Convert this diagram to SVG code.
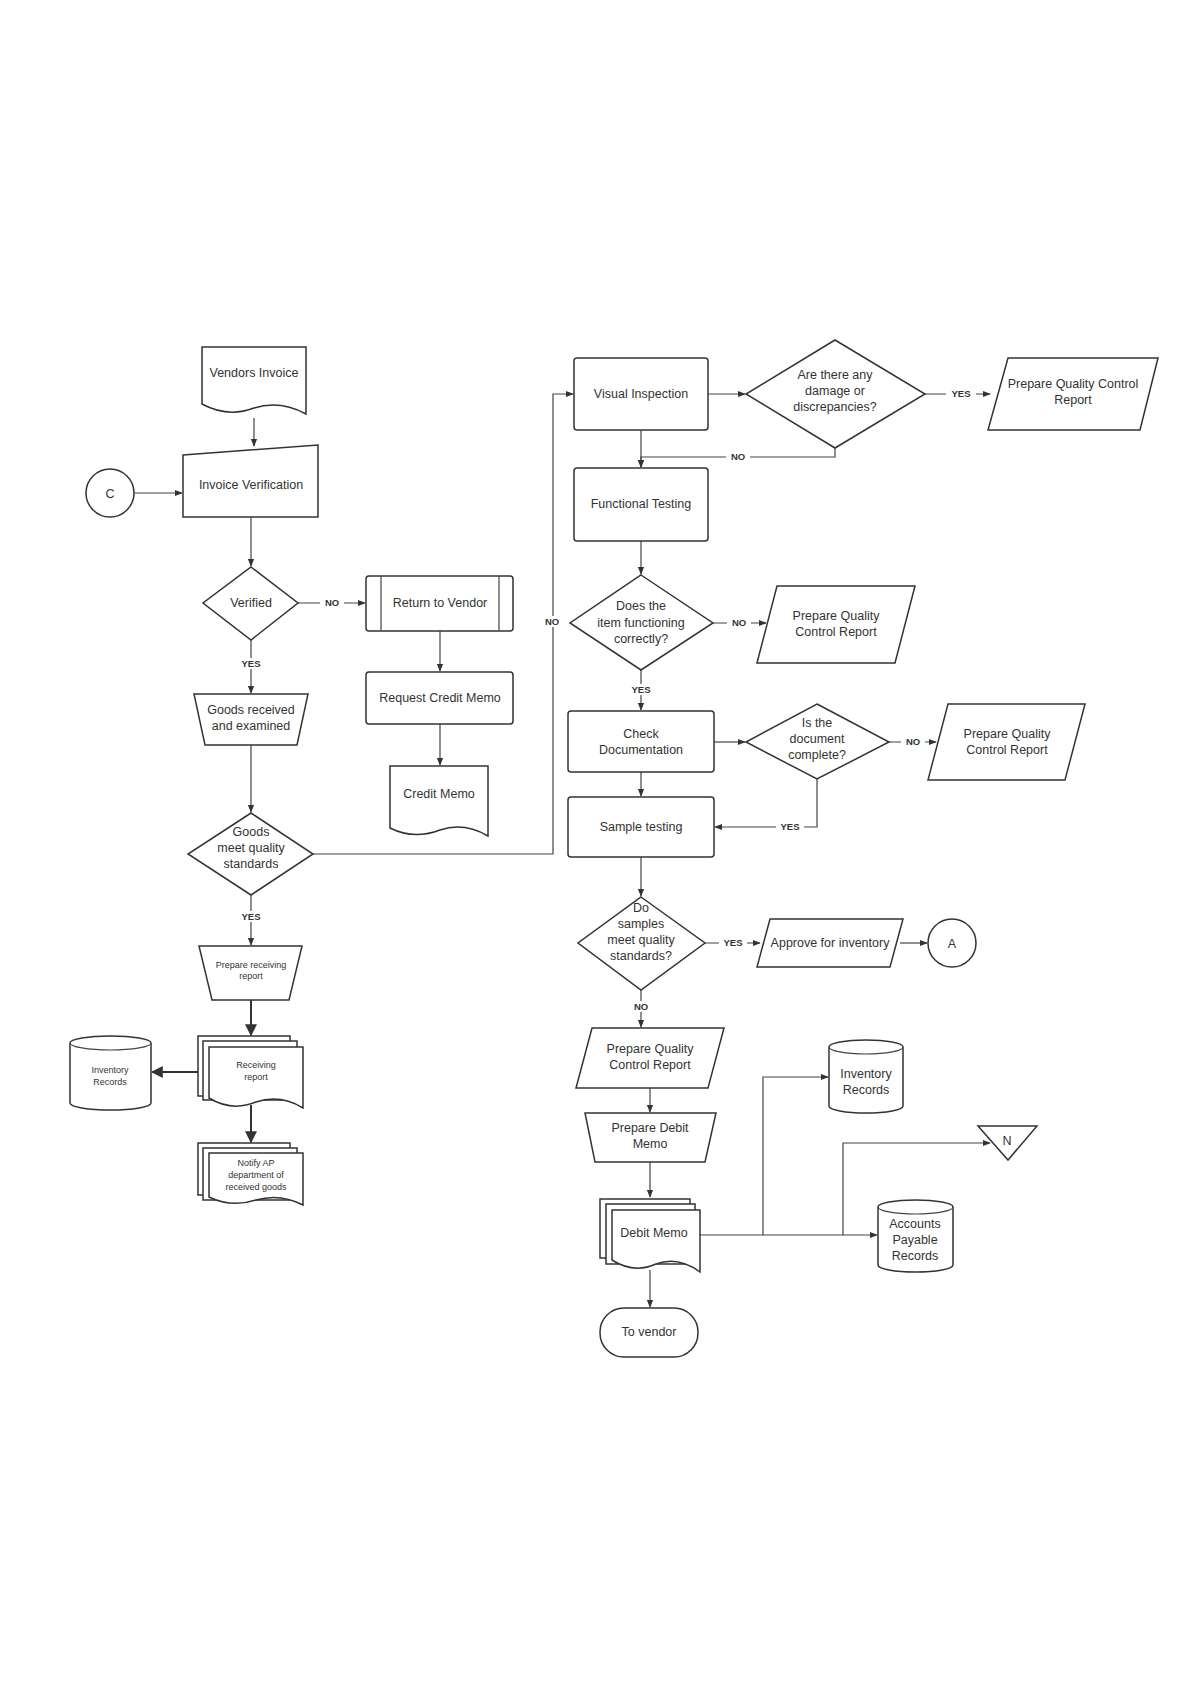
<svg xmlns="http://www.w3.org/2000/svg" width="1200" height="1698" viewBox="0 0 1200 1698">
<defs>
<marker id="ah" viewBox="0 0 10 10" refX="9" refY="5" markerWidth="8" markerHeight="8" orient="auto" markerUnits="userSpaceOnUse"><path d="M0,1 L10,5 L0,9 Z" fill="#333"/></marker>
<marker id="ahb" viewBox="0 0 10 10" refX="9" refY="5" markerWidth="12" markerHeight="12" orient="auto" markerUnits="userSpaceOnUse"><path d="M0,0 L10,5 L0,10 Z" fill="#333"/></marker>
</defs>
<style>
.s{fill:#fff;stroke:#333;stroke-width:1.5}
.t{font-family:"Liberation Sans",Arial,sans-serif;font-size:12.5px;fill:#333;text-anchor:middle}
.sm{font-size:9px}
.lb{font-family:"Liberation Sans",Arial,sans-serif;font-size:9.5px;font-weight:bold;fill:#333;text-anchor:middle}
.c{fill:none;stroke:#444;stroke-width:1.2;marker-end:url(#ah)}
.cn{fill:none;stroke:#444;stroke-width:1.2}
.cb{fill:none;stroke:#333;stroke-width:2;marker-end:url(#ahb)}
.w{fill:#fff}
</style>
<rect width="1200" height="1698" fill="#fff"/>

<g id="connectors">
<path class="c" d="M254,418 V446"/>
<path class="c" d="M134,493 H182"/>
<path class="c" d="M251,517 V566"/>
<path class="c" d="M298,603 H365"/>
<path class="c" d="M440,631 V671"/>
<path class="c" d="M440,724 V765"/>
<path class="c" d="M251,640 V693"/>
<path class="c" d="M251,745 V812"/>
<path class="c" d="M313,854 H553 V394 H573"/>
<path class="c" d="M251,895 V945"/>
<path class="cb" d="M251,1000 V1035"/>
<path class="cb" d="M198,1072 H152"/>
<path class="cb" d="M251,1105 V1142"/>
<path class="c" d="M708,394 H745"/>
<path class="c" d="M925,394 H990"/>
<path class="c" d="M835,448 V457 H641 V467"/>
<path class="c" d="M641,430 V467"/>
<path class="c" d="M641,541 V574"/>
<path class="c" d="M713,623 H766"/>
<path class="c" d="M641,670 V710"/>
<path class="c" d="M714,742 H745"/>
<path class="c" d="M889,742 H936"/>
<path class="c" d="M817,779 V827 H715"/>
<path class="c" d="M641,772 V796"/>
<path class="c" d="M641,857 V896"/>
<path class="c" d="M705,943 H760"/>
<path class="c" d="M900,943 H927"/>
<path class="c" d="M641,990 V1027"/>
<path class="c" d="M650,1088 V1112"/>
<path class="c" d="M650,1162 V1197"/>
<path class="c" d="M650,1270 V1307"/>
<path class="c" d="M700,1235 H763 V1077 H828"/>
<path class="c" d="M763,1235 H843 V1143 H990"/>
<path class="c" d="M843,1235 H877"/>
<rect class="w" x="320" y="597" width="24" height="11"/><text class="lb" x="332" y="606">NO</text>
<rect class="w" x="238" y="658" width="26" height="11"/><text class="lb" x="251" y="667">YES</text>
<rect class="w" x="238" y="911" width="26" height="11"/><text class="lb" x="251" y="920">YES</text>
<rect class="w" x="540" y="616" width="24" height="11"/><text class="lb" x="552" y="625">NO</text>
<rect class="w" x="946" y="388" width="30" height="11"/><text class="lb" x="961" y="397">YES</text>
<rect class="w" x="726" y="451" width="24" height="11"/><text class="lb" x="738" y="460">NO</text>
<rect class="w" x="727" y="617" width="24" height="11"/><text class="lb" x="739" y="626">NO</text>
<rect class="w" x="628" y="684" width="26" height="11"/><text class="lb" x="641" y="693">YES</text>
<rect class="w" x="901" y="736" width="24" height="11"/><text class="lb" x="913" y="745">NO</text>
<rect class="w" x="776" y="821" width="28" height="11"/><text class="lb" x="790" y="830">YES</text>
<rect class="w" x="719" y="937" width="28" height="11"/><text class="lb" x="733" y="946">YES</text>
<rect class="w" x="629" y="1001" width="24" height="11"/><text class="lb" x="641" y="1010">NO</text>
</g>

<g id="vendors-invoice"><path class="s" d="M202,347 H306 V414 Q280,400 254,408 Q228,418 202,404 Z"/><text class="t" x="254" y="377">Vendors Invoice</text></g>
<g id="c-connector"><circle class="s" cx="110" cy="493" r="24"/><text class="t" x="110" y="498">C</text></g>
<g id="invoice-verification"><path class="s" d="M183,455 L318,445 V517 H183 Z"/><text class="t" x="251" y="489">Invoice Verification</text></g>
<g id="verified"><path class="s" d="M251,567 L298,603 L251,640 L203,603 Z"/><text class="t" x="251" y="607">Verified</text></g>
<g id="return-vendor"><rect class="s" x="366" y="576" width="147" height="55" rx="3"/><path class="cn" d="M381,576 V631 M499,576 V631"/><text class="t" x="440" y="607">Return to Vendor</text></g>
<g id="request-credit-memo"><rect class="s" x="366" y="672" width="147" height="52" rx="3"/><text class="t" x="440" y="702">Request Credit Memo</text></g>
<g id="credit-memo"><path class="s" d="M390,766 H488 V836 Q464,822 440,830 Q414,840 390,828 Z"/><text class="t" x="439" y="798">Credit Memo</text></g>
<g id="goods-received"><path class="s" d="M194,694 H308 L297,745 H205 Z"/><text class="t" x="251" y="714">Goods received</text><text class="t" x="251" y="730">and examined</text></g>
<g id="goods-quality"><path class="s" d="M251,813 L313,854 L251,895 L188,854 Z"/><text class="t" x="251" y="836">Goods</text><text class="t" x="251" y="852">meet quality</text><text class="t" x="251" y="868">standards</text></g>
<g id="prepare-receiving"><path class="s" d="M199,946 H302 L289,1000 H212 Z"/><text class="t sm" x="251" y="968">Prepare receiving</text><text class="t sm" x="251" y="979">report</text></g>
<g id="receiving-report"><path class="s" d="M198,1036 H290 V1096 H198 Z"/><path class="s" d="M203,1041 H297 V1100 H203 Z"/><path class="s" d="M209,1047 H303 V1108 Q280,1094 256,1102 Q232,1112 209,1098 Z"/><text class="t sm" x="256" y="1068">Receiving</text><text class="t sm" x="256" y="1080">report</text></g>
<g id="inventory-records-1"><path class="s" d="M70,1043 A40.5,7 0 0 1 151,1043 V1103 A40.5,7 0 0 1 70,1103 Z"/><path class="cn" d="M70,1043 A40.5,7 0 0 0 151,1043"/><text class="t sm" x="110" y="1073">Inventory</text><text class="t sm" x="110" y="1085">Records</text></g>
<g id="notify-ap"><path class="s" d="M198,1143 H290 V1195 H198 Z"/><path class="s" d="M203,1148 H297 V1200 H203 Z"/><path class="s" d="M209,1153 H303 V1205 Q280,1193 256,1200 Q232,1208 209,1197 Z"/><text class="t sm" x="256" y="1166">Notify AP</text><text class="t sm" x="256" y="1178">department of</text><text class="t sm" x="256" y="1190">received goods</text></g>

<g id="visual-inspection"><rect class="s" x="574" y="358" width="134" height="72" rx="3"/><text class="t" x="641" y="398">Visual Inspection</text></g>
<g id="damage-decision"><path class="s" d="M835,340 L925,394 L835,448 L746,394 Z"/><text class="t" x="835" y="379">Are there any</text><text class="t" x="835" y="395">damage or</text><text class="t" x="835" y="411">discrepancies?</text></g>
<g id="pqcr-1"><path class="s" d="M1008,358 H1158 L1140,430 H988 Z"/><text class="t" x="1073" y="388">Prepare Quality Control</text><text class="t" x="1073" y="404">Report</text></g>
<g id="functional-testing"><rect class="s" x="574" y="468" width="134" height="73" rx="3"/><text class="t" x="641" y="508">Functional Testing</text></g>
<g id="functioning-decision"><path class="s" d="M641,575 L713,623 L641,670 L570,623 Z"/><text class="t" x="641" y="610">Does the</text><text class="t" x="641" y="627">item functioning</text><text class="t" x="641" y="643">correctly?</text></g>
<g id="pqcr-2"><path class="s" d="M777,586 H915 L895,663 H757 Z"/><text class="t" x="836" y="620">Prepare Quality</text><text class="t" x="836" y="636">Control Report</text></g>
<g id="check-documentation"><rect class="s" x="568" y="711" width="146" height="61" rx="3"/><text class="t" x="641" y="738">Check</text><text class="t" x="641" y="754">Documentation</text></g>
<g id="document-decision"><path class="s" d="M817,704 L889,742 L817,779 L746,742 Z"/><text class="t" x="817" y="727">Is the</text><text class="t" x="817" y="743">document</text><text class="t" x="817" y="759">complete?</text></g>
<g id="pqcr-3"><path class="s" d="M948,704 H1085 L1065,780 H928 Z"/><text class="t" x="1007" y="738">Prepare Quality</text><text class="t" x="1007" y="754">Control Report</text></g>
<g id="sample-testing"><rect class="s" x="568" y="797" width="146" height="60" rx="3"/><text class="t" x="641" y="831">Sample testing</text></g>
<g id="samples-decision"><path class="s" d="M641,897 L705,943 L641,990 L578,943 Z"/><text class="t" x="641" y="912">Do</text><text class="t" x="641" y="928">samples</text><text class="t" x="641" y="944">meet quality</text><text class="t" x="641" y="960">standards?</text></g>
<g id="approve-inventory"><path class="s" d="M770,919 H903 L890,967 H757 Z"/><text class="t" x="830" y="947">Approve for inventory</text></g>
<g id="a-connector"><circle class="s" cx="952" cy="943" r="24"/><text class="t" x="952" y="948">A</text></g>
<g id="pqcr-4"><path class="s" d="M592,1028 H724 L708,1088 H576 Z"/><text class="t" x="650" y="1053">Prepare Quality</text><text class="t" x="650" y="1069">Control Report</text></g>
<g id="prepare-debit-memo"><path class="s" d="M585,1113 H716 L705,1162 H595 Z"/><text class="t" x="650" y="1132">Prepare Debit</text><text class="t" x="650" y="1148">Memo</text></g>
<g id="debit-memo"><path class="s" d="M600,1199 H690 V1258 H600 Z"/><path class="s" d="M606,1204 H695 V1264 H606 Z"/><path class="s" d="M612,1210 H700 V1272 Q678,1256 656,1264 Q634,1274 612,1260 Z"/><text class="t" x="654" y="1237">Debit Memo</text></g>
<g id="to-vendor"><rect class="s" x="600" y="1308" width="98" height="49" rx="24"/><text class="t" x="649" y="1336">To vendor</text></g>
<g id="inventory-records-2"><path class="s" d="M829,1047 A37,7 0 0 1 903,1047 V1106 A37,7 0 0 1 829,1106 Z"/><path class="cn" d="M829,1047 A37,7 0 0 0 903,1047"/><text class="t" x="866" y="1078">Inventory</text><text class="t" x="866" y="1094">Records</text></g>
<g id="n-connector"><path class="s" d="M978,1126 H1037 L1008,1160 Z"/><text class="t" x="1007" y="1145">N</text></g>
<g id="ap-records"><path class="s" d="M878,1207 A37.5,7 0 0 1 953,1207 V1265 A37.5,7 0 0 1 878,1265 Z"/><path class="cn" d="M878,1207 A37.5,7 0 0 0 953,1207"/><text class="t" x="915" y="1228">Accounts</text><text class="t" x="915" y="1244">Payable</text><text class="t" x="915" y="1260">Records</text></g>
</svg>
